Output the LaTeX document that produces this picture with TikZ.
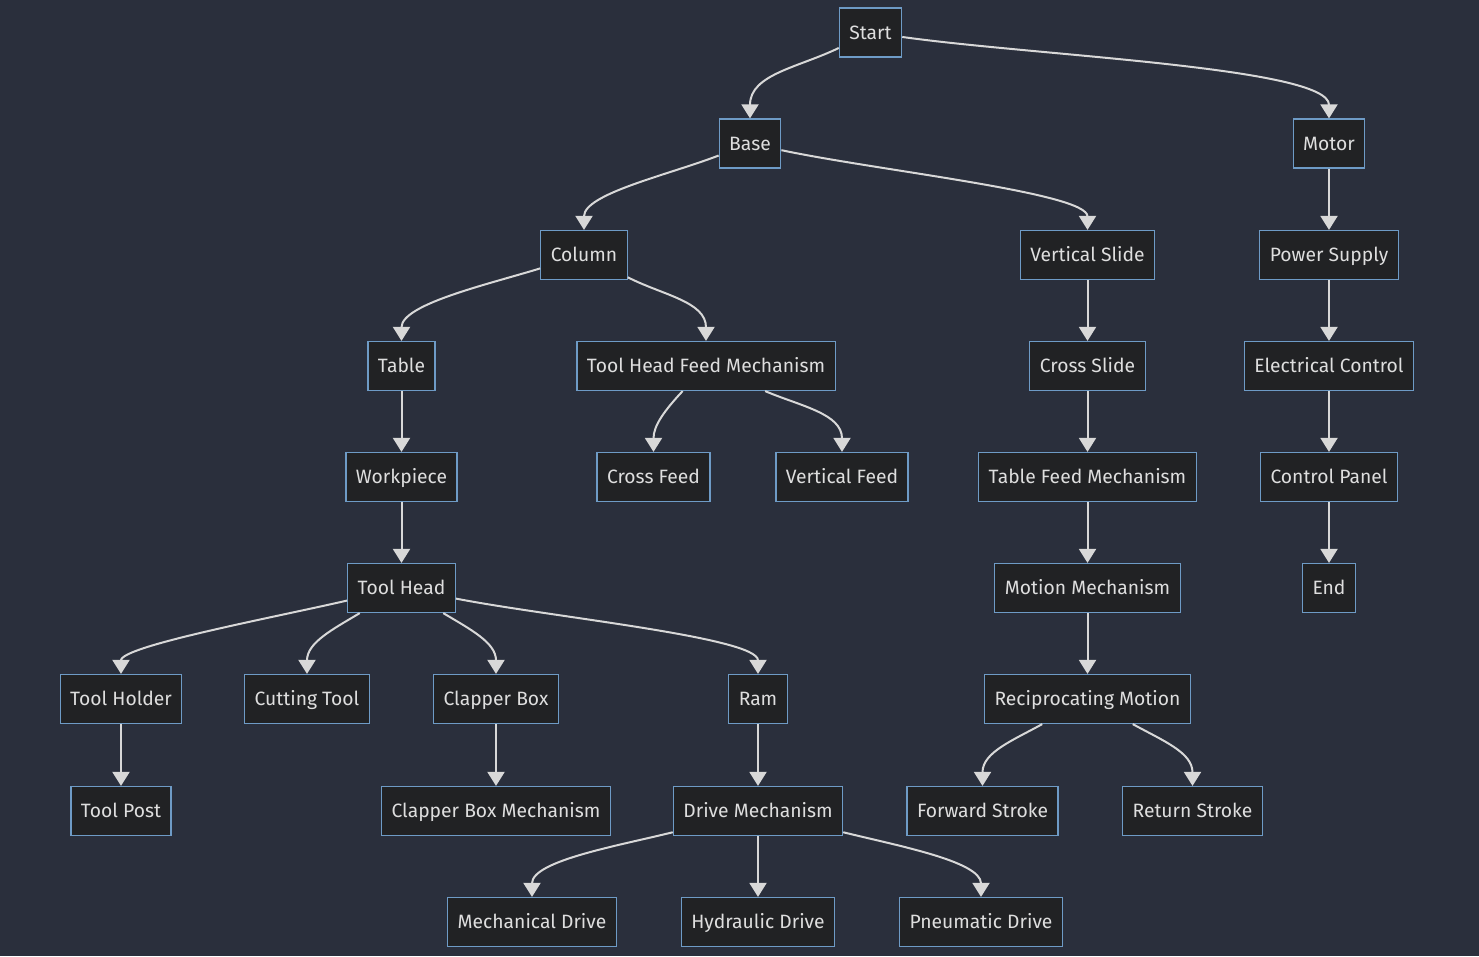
\documentclass[tikz,border=0pt]{standalone}
\usepackage{fontspec}
\setmainfont{Fira Sans}
\usepackage{tikz}
\usetikzlibrary{arrows.meta,positioning}
\definecolor{bgdark}{RGB}{42,47,60}
\definecolor{nodefill}{RGB}{33,34,36}
\definecolor{nodeline}{RGB}{110,155,198}
\definecolor{textgrey}{RGB}{222,222,222}
\definecolor{edgegrey}{RGB}{216,216,216}

\begin{document}
\begin{tikzpicture}[x=1pt, y=-1pt, font=\rmfamily\fontsize{19.3}{22}\selectfont,
  box/.style={draw=nodeline, fill=nodefill, text=textgrey, line width=1.2pt,
    minimum height=49pt, inner xsep=10pt, inner ysep=0pt,
    text height=15.5pt, text depth=2pt},
  edge/.style={draw=edgegrey, line width=2pt, -{Triangle[width=17pt,length=14pt]}},
  far/.style={in looseness=0.3, out looseness=0.8},
  mid/.style={in looseness=0.6, out looseness=0.9}]

% ==========================================
% Canvas
% ==========================================
\fill[bgdark] (0,0) rectangle (1479,956);
\useasboundingbox (0,0) rectangle (1479,956);

% ==========================================
% Nodes (row by row)
% ==========================================
\node[box] (start) at (870.5, 32.5) {Start};

\node[box] (base)  at (750, 143.5) {Base};
\node[box] (motor) at (1329, 143.5) {Motor};

\node[box] (column) at (584, 255) {Column};
\node[box] (vslide) at (1087.5, 255) {Vertical Slide};
\node[box] (power)  at (1329, 255) {Power Supply};

\node[box] (table)    at (401.5, 366) {Table};
\node[box] (headfeed) at (706, 366) {Tool Head Feed Mechanism};
\node[box] (xslide)   at (1087.5, 366) {Cross Slide};
\node[box] (electric) at (1329, 366) {Electrical Control};

\node[box] (workpiece) at (401.5, 477) {Workpiece};
\node[box] (crossfeed) at (653.5, 477) {Cross Feed};
\node[box] (vertfeed)  at (842, 477) {Vertical Feed};
\node[box] (tablefeed) at (1087.5, 477) {Table Feed Mechanism};
\node[box] (panel)     at (1329, 477) {Control Panel};

\node[box] (toolhead) at (401.5, 588) {Tool Head};
\node[box] (motion)   at (1087.5, 588) {Motion Mechanism};
\node[box] (end)      at (1329, 588) {End};

\node[box] (holder)  at (121, 699) {Tool Holder};
\node[box] (cutter)  at (307, 699) {Cutting Tool};
\node[box] (clapper) at (496, 699) {Clapper Box};
\node[box] (ram)     at (758, 699) {Ram};
\node[box] (recip)   at (1087.5, 699) {Reciprocating Motion};

\node[box] (post)     at (121, 811) {Tool Post};
\node[box] (clapmech) at (496, 811) {Clapper Box Mechanism};
\node[box] (drive)    at (758, 811) {Drive Mechanism};
\node[box] (forward)  at (982.5, 811) {Forward Stroke};
\node[box] (return)   at (1192.5, 811) {Return Stroke};

\node[box] (mechdrive)  at (532, 922) {Mechanical Drive};
\node[box] (hyddrive)   at (758, 922) {Hydraulic Drive};
\node[box] (pneudrive)  at (981, 922) {Pneumatic Drive};

% ==========================================
% Connectors
% ==========================================
\draw[edge] (start) to[out=206, in=90] (base);
\draw[edge, far] (start) to[out=-8, in=90] (motor);

\draw[edge, mid] (base) to[out=201, in=90] (column);
\draw[edge, far] (base) to[out=-12, in=90] (vslide);
\draw[edge] (motor) -- (power);

\draw[edge, mid] (column) to[out=197, in=90] (table);
\draw[edge] (column) to[out=-27, in=90] (headfeed);
\draw[edge] (vslide) -- (xslide);
\draw[edge] (power) -- (electric);

\draw[edge] (table) -- (workpiece);
\draw[edge] (headfeed) to[out=227, in=90] (crossfeed);
\draw[edge] (headfeed) to[out=-23, in=90] (vertfeed);
\draw[edge] (xslide) -- (tablefeed);
\draw[edge] (electric) -- (panel);

\draw[edge] (workpiece) -- (toolhead);
\draw[edge] (tablefeed) -- (motion);
\draw[edge] (panel) -- (end);

\draw[edge, far] (toolhead) to[out=193, in=90] (holder);
\draw[edge] (toolhead) to[out=211, in=90] (cutter);
\draw[edge] (toolhead) to[out=-31, in=90] (clapper);
\draw[edge, far] (toolhead) to[out=-11, in=90] (ram);
\draw[edge] (motion) -- (recip);

\draw[edge] (holder) -- (post);
\draw[edge] (clapper) -- (clapmech);
\draw[edge] (ram) -- (drive);
\draw[edge] (recip) to[out=209, in=90] (forward);
\draw[edge] (recip) to[out=-29, in=90] (return);

\draw[edge, mid] (drive) to[out=194, in=90] (mechdrive);
\draw[edge] (drive) -- (hyddrive);
\draw[edge, mid] (drive) to[out=-14, in=90] (pneudrive);

\end{tikzpicture}
\end{document}
